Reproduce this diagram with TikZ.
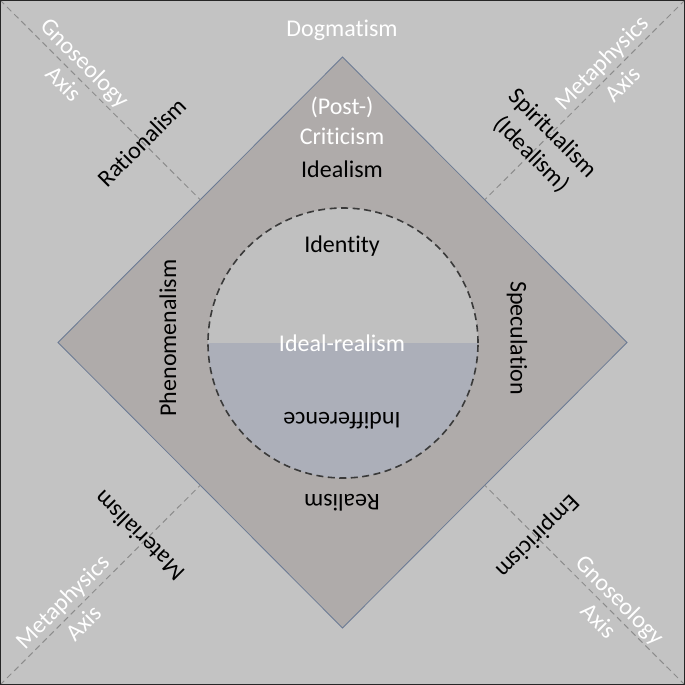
\documentclass[tikz,border=0pt]{standalone}
\usepackage{fontspec}
\setmainfont{Carlito}[Ligatures=NoCommon]
\begin{document}
\begin{tikzpicture}[x=1pt,y=-1pt,
  lbl/.style={font=\fontsize{24}{30}\selectfont,text=black,align=center,inner sep=0pt},
  wlbl/.style={lbl,text=white},
  axisline/.style={draw=axisgray,line width=1pt,dash pattern=on 6pt off 4pt},
]
\definecolor{bggray}{HTML}{C3C3C3}
\definecolor{diagray}{HTML}{AFABAA}
\definecolor{topgray}{HTML}{C0C0C0}
\definecolor{botblue}{HTML}{ACAFB9}
\definecolor{edgeblue}{HTML}{6A7A94}
\definecolor{axisgray}{HTML}{8C8C8C}
\definecolor{circdash}{HTML}{3A3A3A}
\useasboundingbox (0,0) rectangle (685,685);
\fill[bggray] (0,0) rectangle (685,685);
% corners
\coordinate (tl) at (0,0);
\coordinate (tr) at (685,0);
\coordinate (bl) at (0,685);
\coordinate (br) at (685,685);
% diamond
\coordinate (dT) at (342.5,57);
\coordinate (dL) at (58,342.5);
\coordinate (dR) at (627,342.5);
\coordinate (dB) at (342.5,628);
\draw[edgeblue,line width=0.8pt,fill=diagray] (dT) -- (dR) -- (dB) -- (dL) -- cycle;
% axes
\path (dT) -- (dL) coordinate[pos=0.5] (eTL);
\path (dT) -- (dR) coordinate[pos=0.5] (eTR);
\path (dB) -- (dL) coordinate[pos=0.5] (eBL);
\path (dB) -- (dR) coordinate[pos=0.5] (eBR);
\draw[axisline] (tl) -- (eTL);
\draw[axisline] (tr) -- (eTR);
\draw[axisline] (bl) -- (eBL);
\draw[axisline] (br) -- (eBR);
% circle
\coordinate (cc) at (343,343);
\begin{scope}
\clip (cc) circle (135);
\fill[topgray] (208,208) rectangle (478,343);
\fill[botblue] (208,343) rectangle (478,478);
\end{scope}
\node[circle,draw=circdash,line width=1.6pt,dash pattern=on 7pt off 4.5pt,minimum size=270pt,inner sep=0pt] (circ) at (cc) {};
% frame
\draw[black!85,line width=2.5pt] (0,0) rectangle (685,685);
% labels
\node[wlbl] (dog) at (342,30) {Dogmatism};
\node[wlbl] (post) at (342,121) {(Post-)\\Criticism};
\node[lbl] (ideal) at (342,169) {Idealism};
\node[lbl] (ident) at (342,246) {Identity};
\node[wlbl] (idr) at (342,343) {Ideal-realism};
\node[lbl,rotate=180] (indif) at (342,421) {Indifference};
\node[lbl,rotate=180] (real) at (342,503) {Realism};
\node[lbl,rotate=90] (phen) at (168,338) {Phenomenalism};
\node[lbl,rotate=-90] (spec) at (517,338) {Speculation};
\node[lbl,rotate=45] (rat) at (142,142) {Rationalism};
\node[lbl,rotate=-45] (spir) at (542,144) {Spiritualism\\(Idealism)};
\node[lbl,rotate=135] (mat) at (139,536) {Materialism};
\node[lbl,rotate=225] (emp) at (537,536) {Empiricism};
\node[wlbl,rotate=-45] (gax1) at (75,73) {Gnoseology\\Axis};
\node[wlbl,rotate=45] (max1) at (612,73) {Metaphysics\\Axis};
\node[wlbl,rotate=45] (max2) at (73,612) {Metaphysics\\Axis};
\node[wlbl,rotate=-45] (gax2) at (610,610) {Gnoseology\\Axis};
\end{tikzpicture}
\end{document}
